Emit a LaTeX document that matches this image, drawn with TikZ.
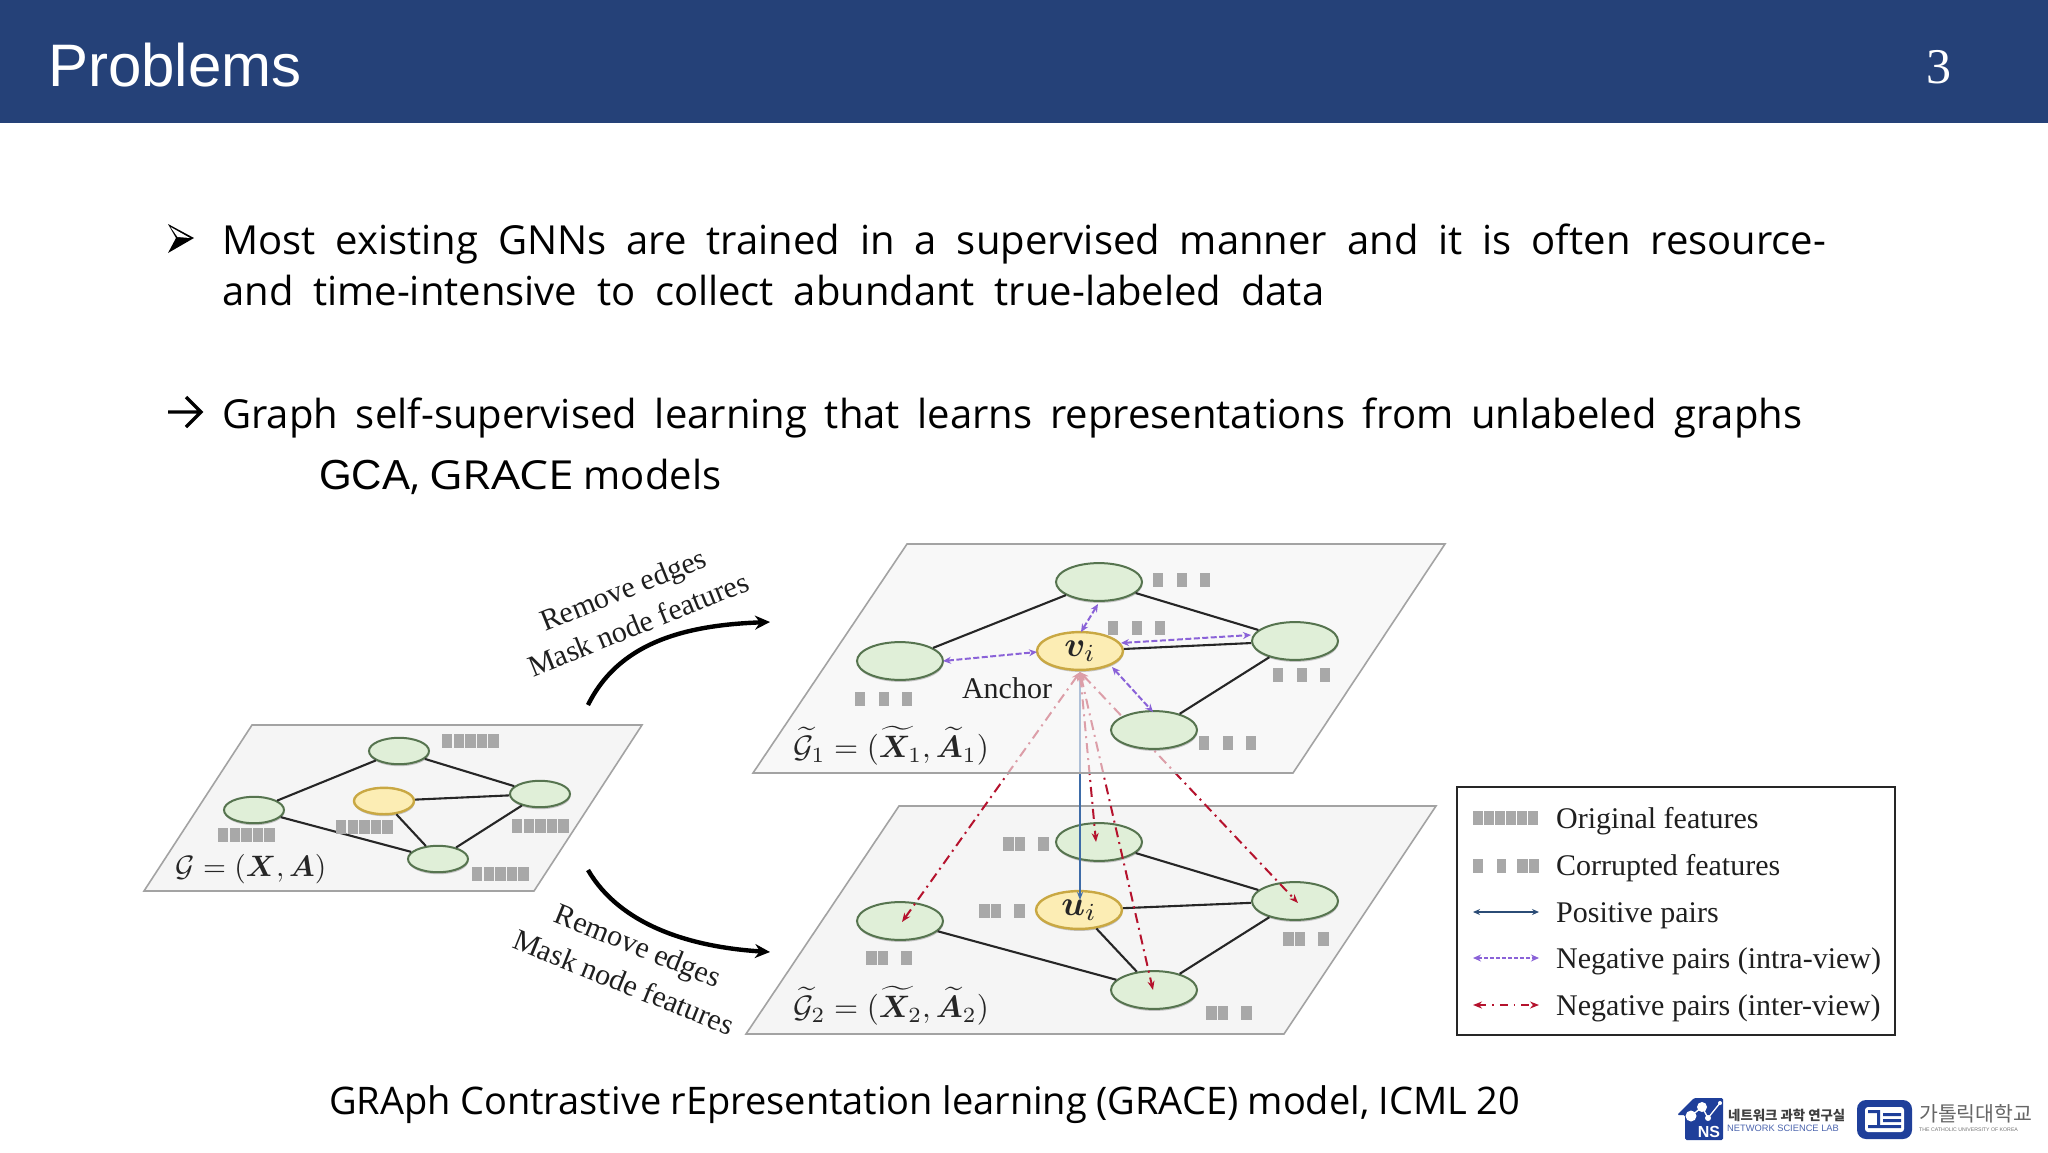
\documentclass[tikz,border=0pt]{standalone}
\usepackage{amsmath,bm,graphicx}
\usepackage{fontspec}
\usetikzlibrary{arrows.meta,shapes.geometric,shadows}
\newfontfamily\bodyf{Open Sans}
\newfontfamily\figf{Liberation Serif}
\newfontfamily\headf{Liberation Sans}
\newfontfamily\cjkf{Noto Sans CJK KR}
\definecolor{headblue}{HTML}{254178}
\definecolor{planefill}{HTML}{F5F5F5}
\definecolor{planeline}{HTML}{A3A3A3}
\definecolor{nodegreen}{HTML}{E0EFD8}
\definecolor{nodeedge}{HTML}{56744F}
\definecolor{nodeyellow}{HTML}{FCEDB4}
\definecolor{yellowedge}{HTML}{C9A843}
\definecolor{featgrey}{HTML}{A8A8A8}
\definecolor{negpurple}{HTML}{8A62D8}
\definecolor{negred}{HTML}{B5122D}
\definecolor{posblue}{HTML}{3E6CA8}
\definecolor{logoblue}{HTML}{1F3F9A}
\tikzset{
 plane/.style={draw=planeline,fill=planefill,line width=1.6pt},
 softshade/.style={drop shadow={opacity=.3,shadow xshift=.5pt,shadow yshift=-2pt,fill=black!70}},
 gn/.style={ellipse,draw=nodeedge,fill=nodegreen,line width=2pt,minimum width=#1*2pt,minimum height=#1*0.88pt,inner sep=0pt,softshade},
 yn/.style={ellipse,draw=yellowedge,fill=nodeyellow,line width=2.4pt,minimum width=#1*2pt,minimum height=#1*0.88pt,inner sep=0pt,softshade},
 gedge/.style={draw=black!85,line width=2.1pt},
 featbox/.style={fill=featgrey},
 posline/.style={draw=posblue,line width=1.6pt,-{Stealth[length=8pt,width=6pt]}},
 negin/.style={draw=negpurple,line width=2pt,dash pattern=on 6pt off 2.5pt,{Stealth[length=8pt,width=7pt]}-{Stealth[length=8pt,width=7pt]}},
 negout/.style={draw=negred,line width=2pt,dash pattern=on 10pt off 5pt on 2pt off 5pt,{Stealth[length=9pt,width=7pt]}-{Stealth[length=9pt,width=7pt]}},
 bigarrow/.style={draw=black,line width=4.4pt,-{Stealth[length=15pt,width=14pt]}},
 figtext/.style={font=\figf\fontsize{30}{34}\selectfont,text=black!88,inner sep=0pt},
 mathtext/.style={scale=#1,text=black!85,inner sep=0pt},
 bodytext/.style={font=\bodyf\fontsize{40}{48}\selectfont,anchor=base west,inner sep=0pt,text=black},
}
\newcommand{\featfive}[2]{\foreach \i in {0,...,4} \fill[featbox] (#1+\i*11.6,#2) rectangle +(10.4,14);}
\newcommand{\feattop}[2]{\foreach \i in {0,1,2} \fill[featbox] (#1+\i*23.5,#2) rectangle +(10,14);}
\newcommand{\featbot}[2]{\foreach \i in {0,11.5,35} \fill[featbox] (#1+\i,#2) rectangle +(10.5,14);}
\begin{document}
\begin{tikzpicture}[x=1pt,y=-1pt]
\useasboundingbox (0,0) rectangle (2048,1152);
\fill[white] (0,0) rectangle (2048,1152);
% header
\fill[headblue] (0,0) rectangle (2048,123);
\node[font=\headf\fontsize{60}{70}\selectfont,text=white,anchor=base west,inner sep=0pt] (title) at (48,86) {Problems};
\node[font=\figf\fontsize{50}{60}\selectfont,text=white,anchor=base,inner sep=0pt] (pageno) at (1939,83) {3};
% body text
\fill[black] (168,224) -- (194,238) -- (168,253) -- (176,238) -- cycle;
\fill[white] (170.5,227) -- (190,238) -- (177.5,237) -- cycle;
\node[bodytext] (l1) at (222,254) {\makebox[1604pt][s]{Most existing GNNs are trained in a supervised manner and it is often resource-}};
\node[bodytext] (l2) at (222,305) {\makebox[1102pt][s]{and time-intensive to collect abundant true-labeled data}};
\draw[line width=3.4pt] (168,412) -- (200,412) (186,397) -- (201,412) -- (186,427);
\node[bodytext] (l3) at (222,428) {\makebox[1580pt][s]{Graph self-supervised learning that learns representations from unlabeled graphs}};
\node[bodytext] (l4) at (319,489) {\makebox[402pt][s]{{\headf\fontsize{42}{48}\selectfont GCA}, \scalebox{1.15}[1]{GRACE} models}};
\node[bodytext,font=\bodyf\fontsize{38}{46}\selectfont] (cap) at (329,1114) {\makebox[1191pt][s]{GRAph Contrastive rEpresentation learning (GRACE) model, ICML 20}};
% left graph
\draw[plane] (252,725) -- (642,725) -- (534,891) -- (144,891) -- cycle;
\node[gn=30] (a1) at (399,751) {};
\node[gn=30] (a2) at (254,810) {};
\node[yn=30] (a3) at (384,801) {};
\node[gn=30] (a4) at (540,794) {};
\node[gn=30] (a5) at (438,859) {};
\draw[gedge] (a1) -- (a2) (a1) -- (a4) (a3) -- (a4) (a3) -- (a5) (a2) -- (a5) (a4) -- (a5);
\featfive{442}{734}\featfive{218}{828}\featfive{336}{820}\featfive{512}{819}\featfive{472}{867}
\node[mathtext=2.95] (glabel) at (251,869) {$\mathcal{G}=(\bm{X},\bm{A})$};
% curved arrows
\coordinate (upS) at (588,705); \coordinate (upE) at (770,622);
\coordinate (dnS) at (588,870); \coordinate (dnE) at (770,952);
\draw[bigarrow] (upS) .. controls (620,640) and (690,625) .. (upE);
\draw[bigarrow] (dnS) .. controls (620,925) and (690,947) .. (dnE);
\node[figtext,rotate=22] (t1) at (624,592) {Remove edges};
\node[figtext,rotate=22] (t2) at (638,624) {Mask node features};
\node[figtext,rotate=-22] (t3) at (637,948) {Remove edges};
\node[figtext,rotate=-22] (t4) at (624,982) {Mask node features};
% lower plane
\draw[plane] (899,806) -- (1436,806) -- (1284,1034) -- (746,1034) -- cycle;
\node[gn=43] (b1) at (1099,842) {};
\node[gn=43] (b2) at (900,921) {};
\node[yn=43] (ub) at (1079,910) {};
\node[gn=43] (b4) at (1295,901) {};
\node[gn=43] (b5) at (1154,990) {};
\draw[gedge] (b1) -- (b4) (ub) -- (b4) (ub) -- (b5) (b2) -- (b5) (b4) -- (b5);
\node[mathtext=3.5] at (ub) {$\bm{u}_i$};
\featbot{1003}{837}\featbot{979}{904}\featbot{866}{951}\featbot{1283}{932}\featbot{1206}{1006}
\node[mathtext=3.1] (g2label) at (891,1006) {$\widetilde{\mathcal{G}}_2=(\widetilde{\bm{X}}_2,\widetilde{\bm{A}}_2)$};
% inter-view connectors
\coordinate (vb) at (1080,672);
\coordinate (tb1) at (1096,842); \coordinate (tb2) at (902,922);
\coordinate (tb4) at (1298,903); \coordinate (tb5) at (1153,990);
\coordinate (tu) at (1080,900);
\draw[posline] (vb) -- (tu);
\draw[negout] (vb) -- (tb2);
\draw[negout] (vb) -- (tb1);
\draw[negout] (vb) -- (tb5);
\draw[negout] (vb) -- (tb4);
% upper plane (over the connectors, which show faintly through it)
\draw[fill=planefill,fill opacity=.62,draw=planeline,line width=1.6pt] (907,544) -- (1445,544) -- (1293,773) -- (753,773) -- cycle;
\node[gn=43] (c1) at (1099,582) {};
\node[gn=43] (c2) at (900,661) {};
\node[yn=43] (vt) at (1080,651) {};
\node[gn=43] (c4) at (1295,641) {};
\node[gn=43] (c5) at (1154,730) {};
\draw[gedge] (c1) -- (c2) (c1) -- (c4) (vt) -- (c4) (c4) -- (c5);
\node[mathtext=3.5] at (vt) {$\bm{v}_i$};
\coordinate (p1) at (1098,604); \coordinate (p2) at (1081,632);
\coordinate (p3) at (943,661); \coordinate (p4) at (1037,652);
\coordinate (p5) at (1121,643); \coordinate (p6) at (1251,635);
\coordinate (p7) at (1112,667); \coordinate (p8) at (1153,712);
\draw[negin] (p1) -- (p2);
\draw[negin] (p3) -- (p4);
\draw[negin] (p5) -- (p6);
\draw[negin] (p7) -- (p8);
\feattop{1153}{573}\feattop{1108}{621}\feattop{855}{692}\feattop{1273}{668}\feattop{1199}{736}
\node[figtext] (anchor) at (1007,688) {Anchor};
\node[mathtext=3.1] (g1label) at (891,746) {$\widetilde{\mathcal{G}}_1=(\widetilde{\bm{X}}_1,\widetilde{\bm{A}}_1)$};
% legend
\draw[draw=black!85,line width=2pt] (1457,787) rectangle (1895,1035);
\foreach \i in {0,...,5} \fill[featbox] (1473+\i*11,811) rectangle +(10,14);
\fill[featbox] (1473,859) rectangle +(10,14);
\fill[featbox] (1497,859) rectangle +(9,14);
\fill[featbox] (1517,859) rectangle +(10.5,14);
\fill[featbox] (1528.5,859) rectangle +(10.5,14);
\coordinate (la) at (1473,912); \coordinate (lb) at (1539,912);
\coordinate (lc) at (1473,958); \coordinate (ld) at (1539,958);
\coordinate (le) at (1473,1005); \coordinate (lf) at (1539,1005);
\draw[draw=posblue!70!black,line width=1.6pt,{Stealth[length=7pt,width=6pt]}-{Stealth[length=7pt,width=6pt]}] (la) -- (lb);
\draw[negin,line width=1.6pt,dash pattern=on 4pt off 2pt] (lc) -- (ld);
\draw[negout,line width=1.6pt,dash pattern=on 8pt off 6pt on 1.5pt off 6pt] (le) -- (lf);
\node[figtext,anchor=base west] (k1) at (1556,828) {Original features};
\node[figtext,anchor=base west] (k2) at (1556,875) {Corrupted features};
\node[figtext,anchor=base west] (k3) at (1556,922) {Positive pairs};
\node[figtext,anchor=base west] (k4) at (1556,968) {Negative pairs (intra-view)};
\node[figtext,anchor=base west] (k5) at (1556,1015) {Negative pairs (inter-view)};
% logos
\fill[logoblue,rounded corners=1.5pt] (1677,1115) -- (1694,1098) -- (1723,1098) -- (1723,1140) -- (1685,1140) -- (1685,1115) -- cycle;
\draw[white,line width=1.3pt] (1691,1116) -- (1702,1107) -- (1708,1118) -- (1720,1103);
\fill[white] (1691,1116) circle (5.5);
\fill[white] (1702,1107) circle (5);
\fill[white] (1708,1118) circle (3);
\fill[white] (1720,1103) circle (2);
\node[font=\headf\bfseries\fontsize{16}{16}\selectfont,text=white,inner sep=0pt] (ns) at (1709,1132) {NS};
\node[font=\cjkf\bfseries\fontsize{13.4}{14}\selectfont,text=black!75,inner sep=0pt,anchor=west] (lab1) at (1728,1115) {네트워크 과학 연구실};
\node[font=\headf\fontsize{9.3}{10}\selectfont,text=logoblue!80,inner sep=0pt,anchor=west] (lab2) at (1727,1128) {NETWORK SCIENCE LAB};
\fill[logoblue,rounded corners=9pt] (1857,1100) rectangle (1912,1139);
\fill[white,rounded corners=3pt] (1865,1107) rectangle (1904,1132);
\fill[logoblue] (1868,1110) rectangle (1878,1113) (1877,1110) rectangle (1880,1128) (1868,1125) rectangle (1901,1128) (1883,1113) rectangle (1901,1116) (1883,1119) rectangle (1901,1122);
\node[font=\cjkf\fontsize{20.5}{22}\selectfont,text=black!60,inner sep=0pt,anchor=west] (uni1) at (1919,1114) {가톨릭대학교};
\node[font=\headf\fontsize{5.2}{6}\selectfont,text=black!55,inner sep=0pt,anchor=west] (uni2) at (1919,1130) {THE CATHOLIC UNIVERSITY OF KOREA};
\end{tikzpicture}
\end{document}
